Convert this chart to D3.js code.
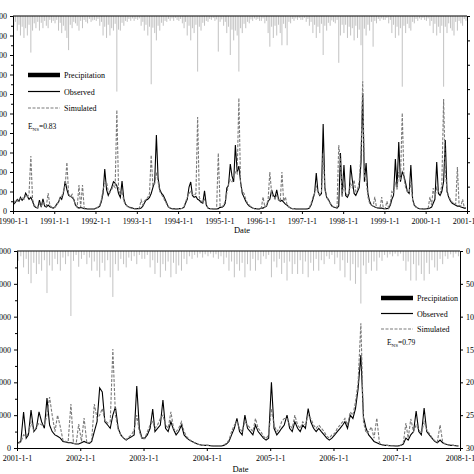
<!DOCTYPE html>
<html><head><meta charset="utf-8">
<script src="https://cdn.jsdelivr.net/npm/d3@7/dist/d3.min.js"></script>
<style>
body{margin:0;background:#fff}
svg{display:block;color:#000}
text{font-family:"Liberation Serif","Times New Roman",serif;fill:#000}
</style></head>
<body><svg id="c" width="474" height="474"></svg>
<script>
// ---------- DATA (semi-monthly readings, 24 per year) ----------
// Top panel: 1990-2000, flow (left axis 0-1000), precipitation (right axis 0-400, mm)
const O1990=[35,45,60,50,70,55,65,92,75,60,70,50,25,18,15,56,20,62,25,20,30,22,18,15];
const S1990=[40,55,50,65,60,70,60,80,70,90,282,60,30,20,18,40,25,45,30,25,92,30,20,15];
const O1991=[20,35,45,70,60,90,154,110,80,75,70,60,30,20,15,18,15,12,12,10,10,10,10,10];
const S1991=[20,30,50,65,75,100,130,250,90,70,85,55,35,20,133,20,133,15,12,12,10,10,10,10];
const O1992=[15,18,25,50,90,215,110,80,100,120,150,143,130,90,70,154,60,35,25,20,18,15,12,12];
const S1992=[15,20,30,60,110,140,150,100,95,110,130,120,518,120,80,100,50,35,25,18,15,12,12,10];
const O1993=[12,12,15,25,40,55,60,70,90,120,150,390,170,110,90,80,60,40,20,15,12,12,10,10];
const S1993=[12,15,56,30,50,60,70,90,287,130,140,200,150,100,85,70,50,35,20,15,12,10,10,10];
const O1994=[12,12,14,20,40,60,123,149,80,70,75,60,55,45,40,103,30,15,12,12,10,10,10,12];
const S1994=[12,12,14,25,45,70,90,100,85,80,90,482,70,50,45,60,30,15,12,12,10,10,10,297];
const O1995=[20,18,25,40,118,130,241,180,150,338,200,230,150,90,70,50,35,25,20,15,12,12,10,10];
const S1995=[25,20,30,50,90,140,160,150,170,200,190,579,140,100,90,60,40,30,20,15,12,12,10,10];
const O1996=[15,15,20,25,50,60,108,80,70,108,60,50,55,45,35,30,20,15,12,12,10,10,10,10];
const S1996=[15,72,20,30,60,200,90,70,60,80,55,50,200,50,72,30,20,15,12,12,10,10,10,10];
const O1997=[10,10,10,12,15,30,60,90,195,100,80,90,446,120,70,60,40,25,20,18,15,25,297,80];
const S1997=[10,10,10,12,18,40,70,92,130,90,85,100,300,110,70,55,40,30,20,18,20,338,250,70];
const O1998=[236,80,70,90,236,159,90,80,100,120,250,605,150,246,90,50,30,25,20,18,15,15,15,12];
const S1998=[150,90,80,100,140,120,159,100,110,150,300,667,180,160,72,40,30,25,72,18,15,15,72,12];
const O1999=[12,12,15,30,60,80,267,120,354,150,200,180,143,100,90,236,60,30,20,15,12,12,10,10];
const S1999=[12,50,15,40,100,90,150,110,200,160,503,170,120,100,95,150,55,30,20,15,12,12,10,10];
const O2000=[12,12,15,20,40,60,251,90,80,100,150,364,100,70,50,40,35,30,25,25,20,18,15,15];
const S2000=[12,12,72,30,118,70,120,100,90,130,574,200,110,72,60,45,40,35,226,30,25,60,18,15];
const P1990=[20,12,30,18,40,22,45,25,40,18,75,30,15,25,12,30,14,25,10,20,25,8,14,10];
const P1991=[15,8,30,14,35,20,30,45,70,18,25,12,15,20,30,10,25,8,12,15,6,12,9,8];
const P1992=[10,6,20,12,40,22,45,18,40,25,30,16,155,28,30,14,20,10,12,6,10,5,10,6];
const P1993=[8,5,20,12,30,18,40,22,140,24,35,50,20,30,14,20,10,12,6,10,5,10,4,8];
const P1994=[10,6,15,25,12,40,20,50,25,35,18,114,22,30,14,20,10,12,6,8,4,10,7,73];
const P1995=[12,7,20,12,35,22,80,28,50,30,40,114,25,35,16,25,12,15,7,10,5,8,6,10];
const P1996=[10,5,15,10,35,63,22,45,20,40,18,35,60,16,25,60,12,15,6,10,5,8,4,8];
const P1997=[8,4,12,6,20,12,35,18,45,22,35,16,80,20,30,14,20,9,12,15,8,96,40,18];
const P1998=[35,18,45,22,40,25,50,20,45,28,60,133,26,40,18,30,12,63,10,15,6,10,5,8];
const P1999=[8,4,15,8,35,18,45,22,40,25,145,20,35,16,25,30,12,15,6,10,5,8,4,8];
const P2000=[10,5,20,10,35,16,40,22,35,20,145,22,35,15,25,30,40,12,30,10,15,20,6,10];

// Bottom panel: 2001-2007, flow (left axis 0-6000), precipitation (right axis 0-300, mm)
const O2001=[160,200,1096,300,400,1158,500,600,1100,800,600,1522,700,500,400,360,300,200,180,160,160,140,120,120];
const S2001=[140,180,400,360,440,800,520,640,760,700,700,1000,1552,1000,500,1000,640,240,200,180,1340,140,120,730];
const O2002=[160,200,160,140,200,500,800,1828,1706,800,700,600,1000,1248,600,400,300,240,300,340,400,1888,600,300];
const S2002=[200,914,160,160,240,1340,900,1000,1200,840,760,800,3016,1000,560,400,300,260,340,400,548,1000,500,280];
const O2003=[300,400,600,1188,500,600,700,1460,600,500,800,560,400,500,700,400,300,240,200,160,120,100,80,80];
const S2003=[280,500,700,800,600,700,900,1000,700,600,1100,600,500,600,800,500,340,260,200,160,120,100,80,80];
const O2004=[80,70,60,60,60,60,80,120,200,400,600,900,500,400,1000,600,500,400,700,500,400,300,240,300];
const S2004=[80,70,60,60,60,60,90,140,240,500,700,800,600,500,800,700,600,500,900,600,500,360,280,400];
const O2005=[2000,600,400,500,600,700,1000,600,500,800,600,500,700,600,1200,800,600,500,600,500,400,300,240,300];
const S2005=[1200,700,500,600,800,900,900,700,600,1000,700,600,800,700,1000,900,700,600,700,600,500,360,300,400];
const O2006=[400,500,600,700,800,600,1000,900,1200,1800,2832,944,600,400,300,200,160,120,100,80,80,70,70,60];
const S2006=[440,600,700,800,900,700,1100,1000,1400,2000,3800,800,456,500,640,300,914,160,100,80,80,70,70,60];
const O2007=[60,80,120,300,240,400,500,1126,500,400,1218,500,400,300,200,160,240,160,120,100,80,80,70,60];
const S2007=[60,80,160,760,300,884,500,700,560,440,800,560,440,320,220,180,700,180,120,100,80,80,70,60];
const P2001=[15,8,25,12,35,49,18,35,20,30,14,64,22,30,12,20,30,10,20,8,99,15,6,24];
const P2002=[12,6,20,10,30,16,30,40,18,30,14,40,70,20,30,12,20,25,10,15,8,20,6,12];
const P2003=[12,6,25,14,35,18,40,20,30,16,40,18,35,22,30,12,20,8,12,6,10,4,10,5];
const P2004=[8,4,10,5,12,8,20,10,30,16,40,20,30,18,40,20,30,12,30,14,20,8,12,6];
const P2005=[40,16,25,12,35,18,45,16,35,20,35,14,35,16,40,18,30,12,30,14,20,8,12,6];
const P2006=[20,10,30,14,40,18,45,20,50,25,80,22,35,18,30,16,30,10,15,6,10,5,8,4];
const P2007=[8,4,15,30,16,45,20,45,22,35,45,18,35,14,25,30,12,20,8,12,5,10,4,8];

const topYears=[1990,1991,1992,1993,1994,1995,1996,1997,1998,1999,2000];
const botYears=[2001,2002,2003,2004,2005,2006,2007];
const topObs=[O1990,O1991,O1992,O1993,O1994,O1995,O1996,O1997,O1998,O1999,O2000];
const topSim=[S1990,S1991,S1992,S1993,S1994,S1995,S1996,S1997,S1998,S1999,S2000];
const topPre=[P1990,P1991,P1992,P1993,P1994,P1995,P1996,P1997,P1998,P1999,P2000];
const botObs=[O2001,O2002,O2003,O2004,O2005,O2006,O2007];
const botSim=[S2001,S2002,S2003,S2004,S2005,S2006,S2007];
const botPre=[P2001,P2002,P2003,P2004,P2005,P2006,P2007];
const legendLabels=["Precipitation","Observed","Simulated"];
const ensTop="0.83", ensBot="0.79";

// ---------- DRAW ----------
const svg=d3.select("#c");
function toSeries(years, arrs){
  const out=[];
  years.forEach((y,k)=>arrs[k].forEach((v,i)=>out.push({d:new Date(y,Math.floor(i/2),i%2?23:8),v})));
  return out;
}
function panel(c){
  const g=svg.append("g");
  const x=d3.scaleTime().domain([new Date(c.y0,0,1),new Date(c.y1,0,1)]).range([c.L,c.R]);
  const yF=d3.scaleLinear().domain([0,c.fMax]).range([c.B,c.T]);
  const yP=d3.scaleLinear().domain([0,c.pMax]).range([c.T,c.B]);
  const obs=toSeries(c.years,c.obs), sim=toSeries(c.years,c.sim), pre=toSeries(c.years,c.pre);
  g.append("g").selectAll("line").data(pre).join("line")
    .attr("x1",d=>x(d.d)).attr("x2",d=>x(d.d))
    .attr("y1",c.T).attr("y2",d=>yP(d.v))
    .attr("stroke","#a8a8a8").attr("stroke-width",0.7);
  const line=d3.line().x(d=>x(d.d)).y(d=>yF(d.v));
  g.append("path").datum(obs).attr("d",line).attr("fill","none").attr("stroke","#000").attr("stroke-width",1.1);
  g.append("path").datum(sim).attr("d",line).attr("fill","none").attr("stroke","#7a7a7a").attr("stroke-width",1.1).attr("stroke-dasharray","3,1.5");
  const fs="8px";
  const xa=g.append("g").attr("transform",`translate(0,${c.B})`)
    .call(d3.axisBottom(x).ticks(d3.timeYear.every(1)).tickSize(3).tickFormat(d=>d.getFullYear()+"-1-1"));
  xa.selectAll("text").style("font-size",fs).attr("dy","0.9em");
  const ya=g.append("g").attr("transform",`translate(${c.L},0)`)
    .call(d3.axisLeft(yF).tickValues(d3.range(0,c.fMax+1,c.fStep)).tickSize(3).tickFormat(d3.format("d")));
  ya.selectAll("text").style("font-size",fs);
  g.append("g").attr("transform",`translate(${c.L},0)`)
    .call(d3.axisLeft(yF).tickValues(d3.range(c.fStep/2,c.fMax,c.fStep)).tickSize(2).tickFormat(""))
    .select(".domain").remove();
  const pa=g.append("g").attr("transform",`translate(${c.R},0)`)
    .call(d3.axisRight(yP).tickValues(d3.range(0,c.pMax+1,c.pStep)).tickSize(3).tickPadding(c.pPad).tickFormat(d3.format("d")));
  pa.selectAll("text").style("font-size",fs);
  g.append("line").attr("x1",c.L).attr("x2",c.R).attr("y1",c.T).attr("y2",c.T).attr("stroke","#000").attr("stroke-width",1.2);
  g.selectAll(".domain").attr("stroke","#000");
  g.selectAll(".tick line").attr("stroke","#000");
  g.append("text").attr("x",(c.L+c.R)/2+2).attr("y",c.dateY).attr("text-anchor","middle").style("font-size","8.5px").text("Date");
  const lg=g.append("g");
  const lx=c.lx, ly=c.ly, gap=c.lgap;
  lg.append("line").attr("x1",lx).attr("x2",lx+32).attr("y1",ly).attr("y2",ly).attr("stroke","#000").attr("stroke-width",4.5);
  lg.append("line").attr("x1",lx).attr("x2",lx+32).attr("y1",ly+gap).attr("y2",ly+gap).attr("stroke","#000").attr("stroke-width",1.2);
  lg.append("line").attr("x1",lx).attr("x2",lx+32).attr("y1",ly+2*gap).attr("y2",ly+2*gap).attr("stroke","#7a7a7a").attr("stroke-width",1.1).attr("stroke-dasharray","3,1.5");
  legendLabels.forEach((t,i)=>lg.append("text").attr("x",lx+36).attr("y",ly+i*gap+3).style("font-size","8px").text(t));
  const et=lg.append("text").attr("x",c.ex).attr("y",c.ey).style("font-size","7.5px");
  et.append("tspan").text("E");
  et.append("tspan").attr("dy","2").style("font-size","5px").text("NS");
  et.append("tspan").attr("dy","-2").text("="+c.ens);
}
panel({years:topYears,obs:topObs,sim:topSim,pre:topPre,y0:1990,y1:2001,L:13,R:467,T:16,B:211,
  fMax:1000,fStep:100,pMax:400,pStep:50,pPad:9,dateY:233,lx:28,ly:75,lgap:16.5,ex:28,ey:129,ens:ensTop});
panel({years:botYears,obs:botObs,sim:botSim,pre:botPre,y0:2001,y1:2008,L:17,R:460,T:251,B:448,
  fMax:6000,fStep:1000,pMax:300,pStep:50,pPad:3,dateY:472,lx:381,ly:298,lgap:15.5,ex:387,ey:345,ens:ensBot});
</script></body></html>
